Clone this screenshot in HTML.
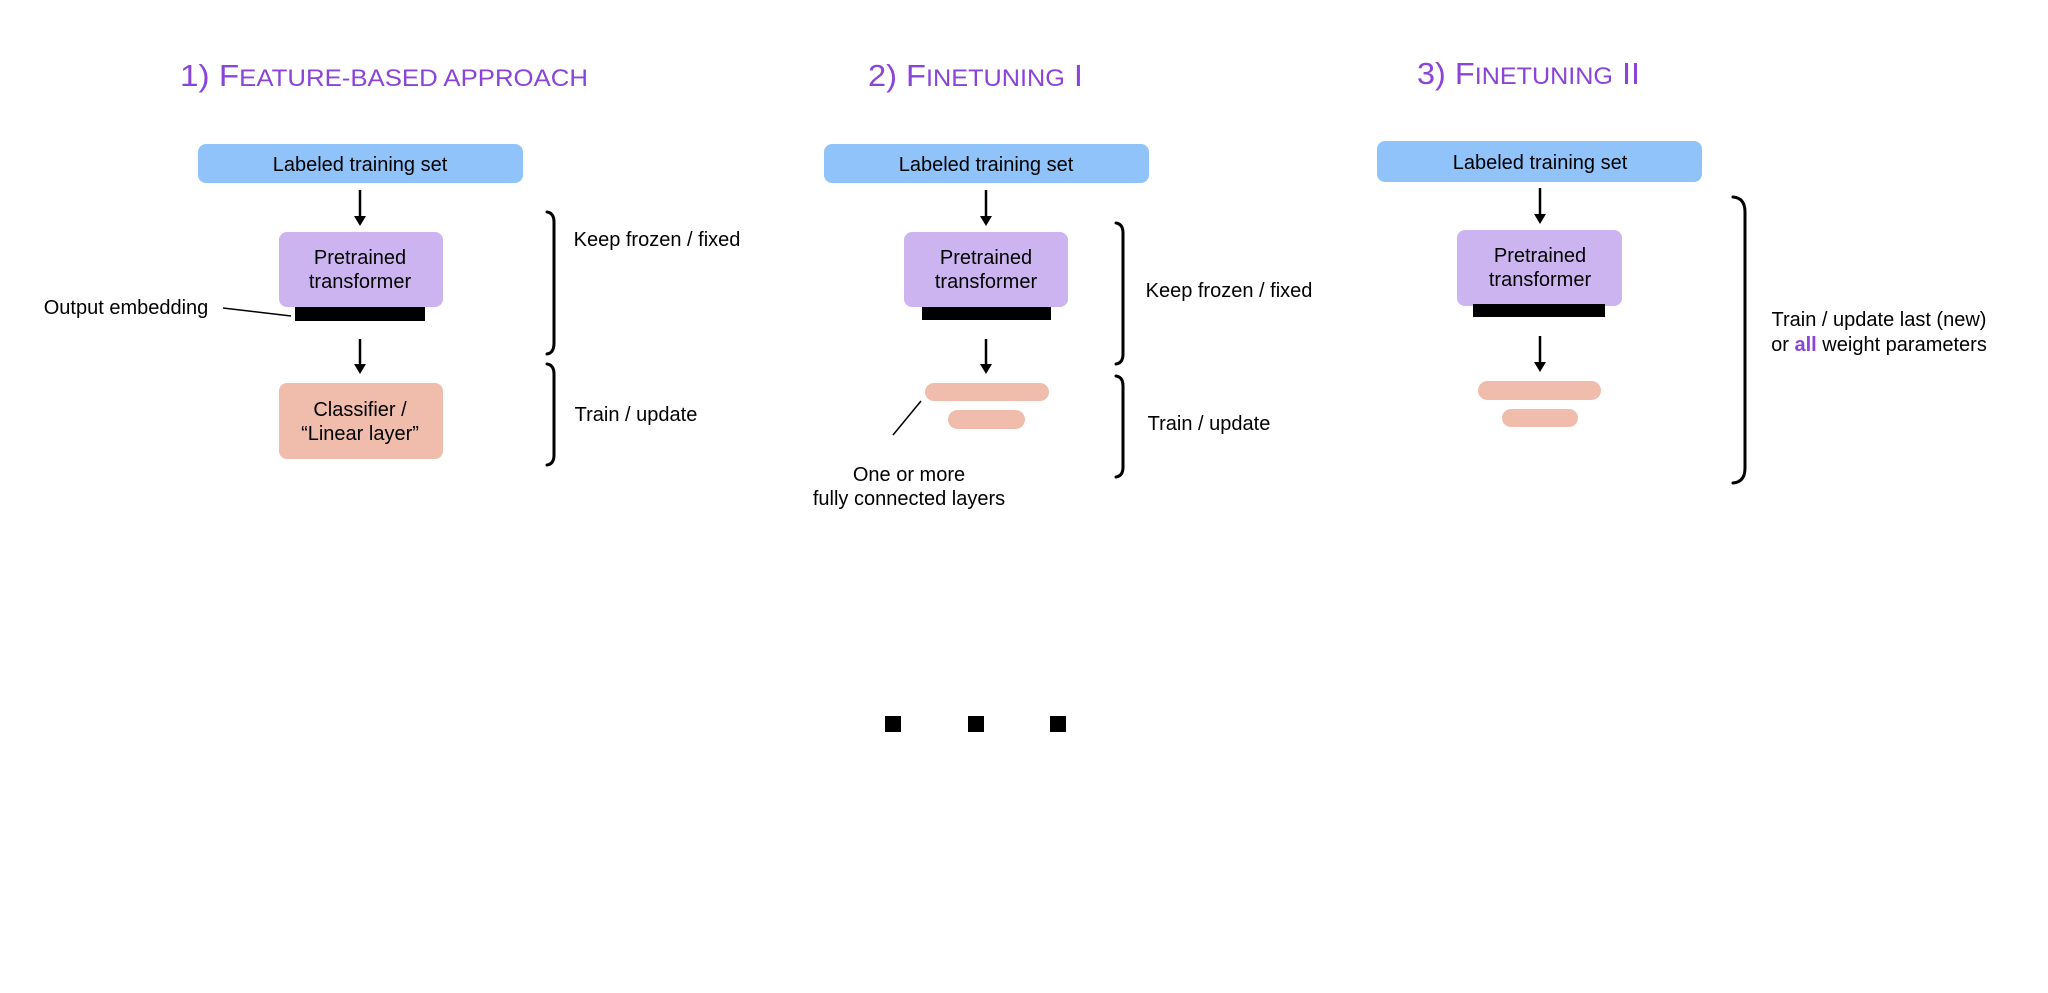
<!DOCTYPE html>
<html><head><meta charset="utf-8"><style>
html,body{margin:0;padding:0;background:#fff;}
svg{display:block;font-family:"Liberation Sans",Arial,sans-serif;}
</style></head><body>
<svg width="2048" height="993" viewBox="0 0 2048 993" xmlns="http://www.w3.org/2000/svg">
<g fill="#8B44D8" font-size="31">
<text x="180" y="86" textLength="408" lengthAdjust="spacingAndGlyphs">1) F<tspan font-size="24">EATURE-BASED APPROACH</tspan></text>
<text x="868" y="86" textLength="215" lengthAdjust="spacingAndGlyphs">2) F<tspan font-size="24">INETUNING</tspan> I</text>
<text x="1417" y="84" textLength="223" lengthAdjust="spacingAndGlyphs">3) F<tspan font-size="24">INETUNING</tspan> II</text>
</g>

<g stroke="#000" stroke-width="2.5">
<line x1="360" y1="190" x2="360" y2="218"/>
<line x1="360" y1="339" x2="360" y2="366"/>
<line x1="986" y1="190" x2="986" y2="218"/>
<line x1="986" y1="339" x2="986" y2="366"/>
<line x1="1540" y1="188" x2="1540" y2="216"/>
<line x1="1540" y1="336" x2="1540" y2="364"/>
</g>
<g fill="#000">
<path d="M354,216 L366,216 L360,226 Z"/>
<path d="M354,364 L366,364 L360,374 Z"/>
<path d="M980,216 L992,216 L986,226 Z"/>
<path d="M980,364 L992,364 L986,374 Z"/>
<path d="M1534,214 L1546,214 L1540,224 Z"/>
<path d="M1534,362 L1546,362 L1540,372 Z"/>
</g>

<g font-size="20" fill="#000" text-anchor="middle">
<!-- Panel 1 -->
<rect x="198" y="144" width="325" height="39" rx="8" fill="#8FC3FA"/>
<text x="360" y="171">Labeled training set</text>
<rect x="279" y="232" width="164" height="75" rx="8" fill="#CBB4F0"/>
<text x="360" y="264">Pretrained</text>
<text x="360" y="288">transformer</text>
<rect x="295" y="307" width="130" height="14" fill="#000"/>
<text x="126" y="314">Output embedding</text>
<line x1="223" y1="308" x2="291" y2="316" stroke="#000" stroke-width="1.5"/>
<rect x="279" y="383" width="164" height="76" rx="8" fill="#F0BCAC"/>
<text x="360" y="416">Classifier /</text>
<text x="360" y="440">“Linear layer”</text>
<text x="657" y="246">Keep frozen / fixed</text>
<text x="636" y="421">Train / update</text>

<!-- Panel 2 -->
<rect x="824" y="144" width="325" height="39" rx="8" fill="#8FC3FA"/>
<text x="986" y="171">Labeled training set</text>
<rect x="904" y="232" width="164" height="75" rx="8" fill="#CBB4F0"/>
<text x="986" y="264">Pretrained</text>
<text x="986" y="288">transformer</text>
<rect x="922" y="307" width="129" height="13" fill="#000"/>
<rect x="925" y="383" width="124" height="18" rx="9" fill="#F0BCAC"/>
<rect x="948" y="410" width="77" height="19" rx="9.5" fill="#F0BCAC"/>
<line x1="921" y1="401" x2="893" y2="435" stroke="#000" stroke-width="1.5"/>
<text x="909" y="481">One or more</text>
<text x="909" y="505">fully connected layers</text>
<text x="1229" y="297">Keep frozen / fixed</text>
<text x="1209" y="430">Train / update</text>

<!-- Panel 3 -->
<rect x="1377" y="141" width="325" height="41" rx="8" fill="#8FC3FA"/>
<text x="1540" y="169">Labeled training set</text>
<rect x="1457" y="230" width="165" height="76" rx="8" fill="#CBB4F0"/>
<text x="1540" y="262">Pretrained</text>
<text x="1540" y="286">transformer</text>
<rect x="1473" y="304" width="132" height="13" fill="#000"/>
<rect x="1478" y="381" width="123" height="19" rx="9.5" fill="#F0BCAC"/>
<rect x="1502" y="409" width="76" height="18" rx="9" fill="#F0BCAC"/>
<text x="1879" y="326">Train / update last (new)</text>
<text x="1879" y="351">or <tspan fill="#8B44D8" font-weight="bold">all</tspan> weight parameters</text>
</g>

<g fill="none" stroke="#000" stroke-width="3" stroke-linecap="round">
<path d="M547,212 Q554,213 554,222 L554,343 Q554,353 547,354"/>
<path d="M547,364 Q554,365 554,374 L554,455 Q554,464 547,465"/>
<path d="M1116,223 Q1123,224 1123,233 L1123,354 Q1123,363 1116,364"/>
<path d="M1116,376 Q1123,377 1123,386 L1123,467 Q1123,476 1116,477"/>
<path d="M1733,197 Q1745,198 1745,212 L1745,468 Q1745,482 1733,483"/>
</g>

<rect x="885" y="716" width="16" height="16" fill="#000"/>
<rect x="968" y="716" width="16" height="16" fill="#000"/>
<rect x="1050" y="716" width="16" height="16" fill="#000"/>
</svg>
</body></html>
